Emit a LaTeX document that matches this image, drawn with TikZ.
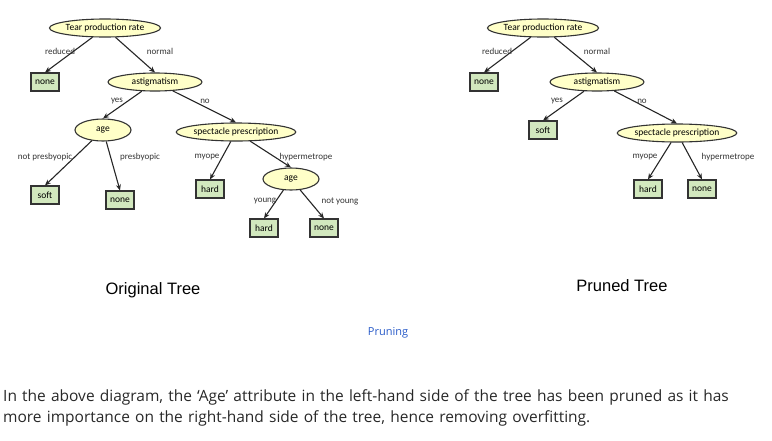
\documentclass[tikz,border=0pt]{standalone}
\usepackage{fontspec}
\setmainfont{Carlito}
\newfontfamily\osans{Open Sans}
\newfontfamily\arial{Liberation Sans}
\usetikzlibrary{shapes.geometric,arrows.meta}
\definecolor{ellfill}{RGB}{255,255,200}
\definecolor{boxfill}{RGB}{210,232,190}
\definecolor{txtgray}{RGB}{40,40,40}
\definecolor{linkblue}{RGB}{40,90,200}
\begin{document}
\begin{tikzpicture}[x=1pt,y=-1pt,
  dec/.style={ellipse,draw=black!80,line width=1.1pt,fill=ellfill,inner sep=0pt,minimum height=18pt,font=\fontsize{9.5}{10}\selectfont},
  leaf/.style={rectangle,draw=black!80,line width=1.1pt,fill=boxfill,minimum width=28pt,minimum height=18pt,inner sep=1pt,font=\fontsize{9.5}{10}\selectfont},
  edge/.style={-{Stealth[length=6pt,width=5pt]},line width=1.1pt,black!85},
  lab/.style={font=\fontsize{9}{10}\selectfont,text=black!80,inner sep=0pt}]
\useasboundingbox (0,0) rectangle (772,440);
% original tree
\node[dec,minimum width=100pt] (t1) at (105,28) {Tear production rate};
\node[leaf] (n1) at (45,82) {none};
\node[dec,minimum width=94pt] (a1) at (155,82) {astigmatism};
\node[dec,minimum width=56pt,minimum height=22pt] (g1) at (103,130) {age};
\node[dec,minimum width=112pt] (s1) at (236,132) {spectacle prescription};
\node[leaf] (so1) at (45,195) {soft};
\node[leaf] (n2) at (120,200) {none};
\node[leaf] (h1) at (210,189) {hard};
\node[dec,minimum width=56pt,minimum height=22pt] (g2) at (291,179) {age};
\node[leaf] (h2) at (264,228) {hard};
\node[leaf] (n3) at (324,228) {none};
\draw[edge] (t1) -- (n1.north);
\draw[edge] (t1) -- (a1.north);
\draw[edge] (a1) -- (g1.north);
\draw[edge] (a1) -- (s1.north);
\draw[edge] (g1) -- (so1.north);
\draw[edge] (g1) -- (n2.north);
\draw[edge] (s1) -- (h1.north);
\draw[edge] (s1) -- (g2.north);
\draw[edge] (g2) -- (h2.north);
\draw[edge] (g2) -- (n3.north);
\node[lab] (l1) at (60,51) {reduced};
\node[lab] (l2) at (160,51) {normal};
\node[lab] (l3) at (117,101) {yes};
\node[lab] (l4) at (205,101) {no};
\node[lab] (l5) at (45,157) {not presbyopic};
\node[lab] (l6) at (140,157) {presbyopic};
\node[lab] (l7) at (207,157) {myope};
\node[lab] (l8) at (306,157) {hypermetrope};
\node[lab] (l9) at (265,201) {young};
\node[lab] (l10) at (340,201) {not young};
% pruned tree
\node[dec,minimum width=100pt] (t2) at (543,28) {Tear production rate};
\node[leaf] (pn1) at (484,82) {none};
\node[dec,minimum width=94pt] (a2) at (597,82) {astigmatism};
\node[leaf] (ps) at (543,130) {soft};
\node[dec,minimum width=112pt] (s2) at (677,133) {spectacle prescription};
\node[leaf] (ph) at (648,189) {hard};
\node[leaf] (pn2) at (702,189) {none};
\draw[edge] (t2) -- (pn1.north);
\draw[edge] (t2) -- (a2.north);
\draw[edge] (a2) -- (ps.north);
\draw[edge] (a2) -- (s2.north);
\draw[edge] (s2) -- (ph.north);
\draw[edge] (s2) -- (pn2.north);
\node[lab] (m1) at (497,51) {reduced};
\node[lab] (m2) at (597,51) {normal};
\node[lab] (m3) at (557,101) {yes};
\node[lab] (m4) at (642,101) {no};
\node[lab] (m5) at (645,157) {myope};
\node[lab] (m6) at (728,157) {hypermetrope};
% titles
\node[font=\arial\fontsize{16.5}{18}\selectfont] (ot) at (153,290) {Original Tree};
\node[font=\arial\fontsize{16.5}{18}\selectfont] (pt) at (622,286) {Pruned Tree};
\node[font=\osans\fontsize{11}{13}\selectfont,text=linkblue] (cap) at (388,333) {Pruning};
\node[font=\osans\fontsize{15.5}{21}\selectfont,text=txtgray,anchor=north west,text width=760pt,align=left,inner sep=0pt] (par) at (3,389) {In the above diagram, the ‘Age’ attribute in the left-hand side of the tree has been pruned as it has\\ more importance on the right-hand side of the tree, hence removing overfitting.};
\end{tikzpicture}
\end{document}
